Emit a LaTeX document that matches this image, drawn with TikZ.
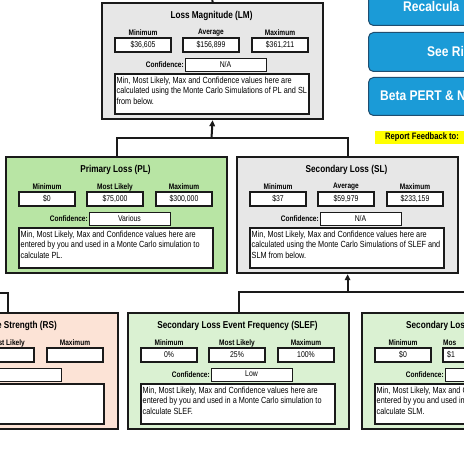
\documentclass[tikz,border=0pt]{standalone}
\usepackage{fontspec}
\setmainfont{Liberation Sans}[FakeStretch=0.82]
\newfontfamily\btnfont{Liberation Sans}[FakeStretch=0.86]
\usetikzlibrary{arrows.meta}
\definecolor{ink}{HTML}{1A1A1A}
\definecolor{graybg}{HTML}{E7E7E7}
\definecolor{plgreen}{HTML}{B8E5A4}
\definecolor{ltgreen}{HTML}{DAF1D2}
\definecolor{rsbg}{HTML}{FCE3D6}
\definecolor{btnblue}{HTML}{1B9BD7}
\definecolor{btnedge}{HTML}{1F4E70}
\definecolor{hl}{HTML}{FFFF00}
\tikzset{
  frame/.style={draw=ink, line width=2.2pt, minimum width=221pt, minimum height=116pt, inner sep=0pt, anchor=north west},
  valbox/.style={draw=ink, fill=white, line width=1.8pt, minimum width=56pt, minimum height=14pt, inner sep=0pt, font=\fontsize{8.4}{9}\selectfont},
  confbox/.style={draw=ink, fill=white, line width=0.9pt, minimum width=81pt, minimum height=13pt, inner sep=0pt, font=\fontsize{8.4}{9}\selectfont},
  txtbox/.style={draw=ink, fill=white, line width=1.8pt, minimum width=194pt, minimum height=40pt, inner sep=0pt},
  para/.style={font=\fontsize{8.9}{10.3}\selectfont, inner sep=0pt, anchor=north west, align=left},
  ttl/.style={font=\bfseries\fontsize{10}{12}\selectfont, inner sep=0pt},
  lab/.style={font=\bfseries\fontsize{8}{9}\selectfont, inner sep=0pt},
  fbtxt/.style={font=\bfseries\fontsize{9.3}{10}\selectfont, inner sep=0pt},
  conn/.style={draw=ink, line width=2pt},
  arr/.style={conn, -{Triangle[length=6pt,width=5.5pt]}},
  btn/.style={draw=btnedge, fill=btnblue, line width=1pt, rounded corners=5pt, inner sep=0pt, anchor=north west, minimum width=130pt},
  btntxt/.style={font=\btnfont\bfseries\fontsize{14}{16}\selectfont, text=white, inner sep=0pt, anchor=west},
}
% #1 name #2 fill #3 v1 #4 v2 #5 v3 #6 conf #7 para
\newcommand\panelbody[7]{%
  \node[frame, fill=#2] (#1) at (0,0) {};
  \node[valbox] (#1-v1) at (42,43) {#3};
  \node[valbox] (#1-v2) at (110,43) {#4};
  \node[valbox] (#1-v3) at (179,43) {#5};
  \node[confbox] (#1-c) at (124.5,62.5) {\raisebox{0.8pt}{#6}};
  \node[txtbox] (#1-x) at (111,92) {};
  \node[para] (#1-p) at (15.5,75) {#7};
}
% #1 name #2 title #3 middle label
\newcommand\panellabels[3]{%
  \node[ttl] (#1-t) at (110.5,14) {#2};
  \node[lab] (#1-l1) at (42,31) {Minimum};
  \node[lab] (#1-l2) at (110,31) {#3};
  \node[lab] (#1-l3) at (179,31) {Maximum};
  \node[lab, anchor=east] (#1-cl) at (83,62.5) {Confidence:};
}
\begin{document}
\begin{tikzpicture}[x=1pt,y=-1pt]
\useasboundingbox (0,0) rectangle (464,462);
\clip (0,0) rectangle (464,462);

% buttons
\node[btn, minimum height=38pt] (b1) at (368,-13) {};
\node[btntxt] (b1t) at (403,6) {Recalcula};
\node[btn, minimum height=39pt] (b2) at (368,32) {};
\node[btntxt] (b2t) at (427,51.5) {See Ri};
\node[btn, minimum height=38pt] (b3) at (368,77) {};
\node[btntxt] (b3t) at (380,96) {Beta PERT \& N};
\node[fill=hl, anchor=north west, minimum width=100pt, minimum height=13pt, inner sep=0pt] (fbk) at (375,131) {};
\node[fbtxt, anchor=west] (fbkt) at (385,137.5) {Report Feedback to:};

% Loss Magnitude
\begin{scope}[shift={(101,2)}]
  \panelbody{LM}{graybg}{\$36,605}{\$156,899}{\$361,211}{N/A}{Min, Most Likely, Max and Confidence values here are\\calculated using the Monte Carlo Simulations of PL and SL\\from below.}
  \panellabels{LM}{Loss Magnitude (LM)}{Average}
\end{scope}

% Primary Loss
\begin{scope}[shift={(5,156)}]
  \panelbody{PL}{plgreen}{\$0}{\$75,000}{\$300,000}{Various}{Min, Most Likely, Max and Confidence values here are\\entered by you and used in a Monte Carlo simulation to\\calculate PL.}
  \panellabels{PL}{Primary Loss (PL)}{Most Likely}
\end{scope}

% Secondary Loss
\begin{scope}[shift={(236,156)}]
  \panelbody{SL}{graybg}{\$37}{\$59,979}{\$233,159}{N/A}{Min, Most Likely, Max and Confidence values here are\\calculated using the Monte Carlo Simulations of SLEF and\\SLM from below.}
  \panellabels{SL}{Secondary Loss (SL)}{Average}
\end{scope}

% Resistance Strength (partly visible)
\begin{scope}[shift={(-104,312)}]
  \panelbody{RS}{rsbg}{}{}{}{}{}
  \node[ttl, anchor=east] (RS-t) at (161,14) {e Strength (RS)};
  \node[lab, anchor=east] (RS-l2) at (129,31) {st Likely};
  \node[lab] (RS-l3) at (179,31) {Maximum};
\end{scope}

% Secondary Loss Event Frequency
\begin{scope}[shift={(127,312)}]
  \panelbody{SLEF}{ltgreen}{0\%}{25\%}{100\%}{Low}{Min, Most Likely, Max and Confidence values here are\\entered by you and used in a Monte Carlo simulation to\\calculate SLEF.}
  \panellabels{SLEF}{Secondary Loss Event Frequency (SLEF)}{Most Likely}
\end{scope}

% Secondary Loss Magnitude (partly visible)
\begin{scope}[shift={(361,312)}]
  \panelbody{SLM}{ltgreen}{\$0}{}{}{}{Min, Most Likely, Max and C\\entered by you and used in\\calculate SLM.}
  \node[ttl, anchor=west] (SLM-t) at (45,14) {Secondary Los};
  \node[lab] (SLM-l1) at (42,31) {Minimum};
  \node[lab, anchor=west] (SLM-l2) at (82,31) {Mos};
  \node[lab, anchor=east] (SLM-cl) at (83,62.5) {Confidence:};
  \node[font=\fontsize{8.4}{9}\selectfont, inner sep=0pt, anchor=west] (SLM-v2t) at (86,43) {\$1};
\end{scope}

% connectors
\coordinate (jtop) at (211.5,-6);
\draw[conn] (LM.north) -- (jtop);
\coordinate (jLM) at (211.5,138);
\draw[conn] (PL.north) |- (SL.north |- jLM) -- (SL.north);
\draw[arr] (jLM) -- (LM.south);
\coordinate (jr) at (480,292);
\draw[conn] (SLEF.north) |- (jr);
\draw[arr] (SL.south |- jr) -- (SL.south);
\coordinate (jl) at (-20,293);
\draw[conn] (RS.north) |- (jl);
\end{tikzpicture}
\end{document}
